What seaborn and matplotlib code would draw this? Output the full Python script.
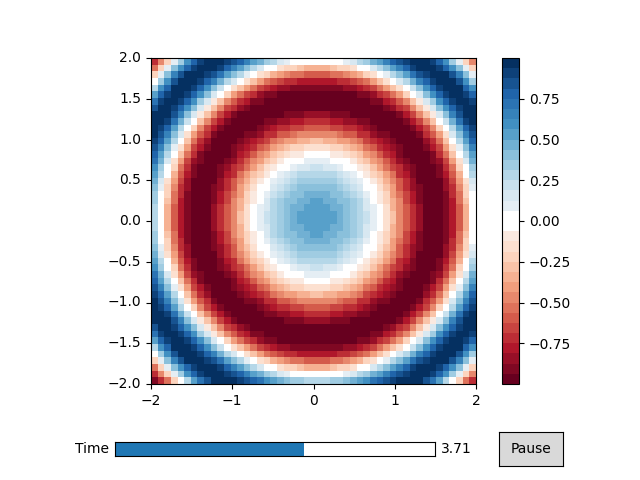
import numpy as np
import matplotlib
matplotlib.use("Agg")
import matplotlib.pyplot as plt
from matplotlib.colors import ListedColormap
from matplotlib.widgets import Button
import seaborn as sns

# One quadrant of the picture, estimated by hand from the rings.
# Row/column = cells away from the centre; the rest of the grid is mirrored.
quadrant = [
    [.53, .52, .50, .47, .42, .36, .29, .19, .09, -.03, -.17, -.31, -.46, -.60, -.74, -.86, -.95, -.99, -.99, -.93, -.79, -.58, -.33, -.03, .29],
    [.52, .51, .49, .45, .41, .35, .27, .18, .07, -.05, -.18, -.33, -.47, -.61, -.75, -.87, -.95, -1.0, -.99, -.92, -.78, -.57, -.32, -.02, .30],
    [.50, .49, .47, .43, .38, .32, .25, .15, .05, -.07, -.21, -.35, -.49, -.63, -.77, -.88, -.96, -1.0, -.99, -.91, -.76, -.55, -.29, .01, .33],
    [.47, .45, .43, .39, .35, .29, .21, .11, .01, -.11, -.25, -.39, -.53, -.67, -.79, -.89, -.97, -1.0, -.98, -.89, -.73, -.52, -.25, .05, .36],
    [.42, .41, .38, .35, .29, .23, .15, .06, -.05, -.17, -.30, -.43, -.57, -.70, -.82, -.92, -.98, -1.0, -.97, -.87, -.70, -.47, -.20, .11, .41],
    [.36, .35, .32, .29, .23, .17, .09, -.01, -.11, -.23, -.36, -.49, -.62, -.75, -.86, -.94, -.99, -1.0, -.95, -.83, -.65, -.41, -.13, .17, .47],
    [.29, .27, .25, .21, .15, .09, .01, -.09, -.19, -.31, -.43, -.56, -.69, -.80, -.89, -.96, -1.0, -.99, -.92, -.78, -.58, -.34, -.05, .25, .54],
    [.19, .18, .15, .11, .06, -.01, -.09, -.18, -.29, -.40, -.52, -.63, -.75, -.85, -.93, -.99, -1.0, -.97, -.88, -.72, -.51, -.25, .04, .34, .62],
    [.09, .07, .05, .01, -.05, -.11, -.19, -.29, -.39, -.49, -.60, -.72, -.82, -.90, -.96, -1.0, -.99, -.93, -.82, -.64, -.41, -.15, .15, .44, .70],
    [-.03, -.05, -.07, -.11, -.17, -.23, -.31, -.40, -.49, -.59, -.70, -.79, -.88, -.95, -.99, -1.0, -.97, -.88, -.73, -.54, -.31, -.03, .27, .54, .78],
    [-.17, -.18, -.21, -.25, -.30, -.36, -.43, -.52, -.60, -.70, -.78, -.87, -.93, -.98, -1.0, -.99, -.92, -.81, -.64, -.43, -.18, .11, .39, .65, .86],
    [-.31, -.33, -.35, -.39, -.43, -.49, -.56, -.63, -.72, -.79, -.87, -.93, -.98, -1.0, -.99, -.95, -.85, -.71, -.52, -.29, -.03, .25, .52, .75, .92],
    [-.46, -.47, -.49, -.53, -.57, -.62, -.69, -.75, -.82, -.88, -.93, -.98, -1.0, -1.0, -.96, -.88, -.75, -.58, -.38, -.13, .13, .40, .65, .85, .97],
    [-.60, -.61, -.63, -.67, -.70, -.75, -.80, -.85, -.90, -.95, -.98, -1.0, -1.0, -.96, -.89, -.78, -.63, -.44, -.21, .04, .30, .56, .77, .93, 1.0],
    [-.74, -.75, -.77, -.79, -.82, -.86, -.89, -.93, -.96, -.99, -1.0, -.99, -.96, -.89, -.79, -.65, -.47, -.27, -.03, .22, .47, .70, .88, .98, .99],
    [-.86, -.87, -.88, -.89, -.92, -.94, -.96, -.99, -1.0, -1.0, -.99, -.95, -.88, -.78, -.65, -.49, -.29, -.07, .17, .41, .64, .83, .95, 1.0, .95],
    [-.95, -.95, -.96, -.97, -.98, -.99, -1.0, -1.0, -.99, -.97, -.92, -.85, -.75, -.63, -.47, -.29, -.08, .15, .38, .60, .79, .93, .99, .98, .85],
    [-.99, -1.0, -1.0, -1.0, -1.0, -1.0, -.99, -.97, -.93, -.88, -.81, -.71, -.58, -.44, -.27, -.07, .15, .36, .58, .76, .91, .99, .99, .90, .72],
    [-.99, -.99, -.99, -.98, -.97, -.95, -.92, -.88, -.82, -.73, -.64, -.52, -.38, -.21, -.03, .17, .38, .58, .75, .90, .98, 1.0, .93, .78, .54],
    [-.93, -.92, -.91, -.89, -.87, -.83, -.78, -.72, -.64, -.54, -.43, -.29, -.13, .04, .22, .41, .60, .76, .90, .97, 1.0, .94, .80, .59, .31],
    [-.79, -.78, -.76, -.73, -.70, -.65, -.58, -.51, -.41, -.31, -.18, -.03, .13, .30, .47, .64, .79, .91, .98, 1.0, .95, .82, .62, .35, .05],
    [-.58, -.57, -.55, -.52, -.47, -.41, -.34, -.25, -.15, -.03, .11, .25, .40, .56, .70, .83, .93, .99, 1.0, .94, .82, .63, .38, .09, -.23],
    [-.33, -.32, -.29, -.25, -.20, -.13, -.05, .04, .15, .27, .39, .52, .65, .77, .88, .95, .99, .99, .93, .80, .62, .38, .10, -.20, -.51],
    [-.03, -.02, .01, .05, .11, .17, .25, .34, .44, .54, .65, .75, .85, .93, .98, 1.0, .98, .90, .78, .59, .35, .09, -.20, -.49, -.75],
    [.29, .30, .33, .36, .41, .47, .54, .62, .70, .78, .86, .92, .97, 1.0, .99, .95, .85, .72, .54, .31, .05, -.23, -.51, -.75, -.91],
]
x_ticks = [-2, -1, 0, 1, 2]
y_ticks = [-2.0, -1.5, -1.0, -0.5, 0.0, 0.5, 1.0, 1.5, 2.0]
cbar_ticks = [-0.75, -0.50, -0.25, 0.00, 0.25, 0.50, 0.75]
time_value = 3.71
time_max = 2 * np.pi

# Mirror the quadrant; the last row and column of the full grid are not drawn
order = list(range(24, -1, -1)) + list(range(0, 24))
grid = np.array(quadrant)[np.ix_(order, order)]
n_cells = grid.shape[0]

# The reference colours come in visible bands with a wide white one at zero
base = matplotlib.colormaps["RdBu"].resampled(32)
colors = [base(i) for i in range(32)]
colors[15] = colors[16] = (1.0, 1.0, 1.0, 1.0)
cmap = ListedColormap(colors)

def add_axes_px(fig, left, top, right, bottom):
    return fig.add_axes([left / 640, 1 - bottom / 480, (right - left) / 640, (bottom - top) / 480])

def minus(label):
    return label.replace("-", "\u2212")

fig = plt.figure(figsize=(6.4, 4.8), dpi=100)
ax = add_axes_px(fig, 151, 58, 476, 384)
cax = add_axes_px(fig, 502, 58, 519, 384)

sns.heatmap(grid, cmap=cmap, vmin=-1, vmax=1, ax=ax, cbar_ax=cax)
ax.invert_yaxis()
for spine in ax.spines.values():
    spine.set_visible(True)
    spine.set_linewidth(0.8)

ax.set_xticks([(v + 2) / 4 * n_cells for v in x_ticks])
ax.set_xticklabels([minus(str(v)) for v in x_ticks], rotation=0)
ax.set_yticks([(v + 2) / 4 * n_cells for v in y_ticks])
ax.set_yticklabels([minus(f"{v:.1f}") for v in y_ticks], rotation=0)
ax.tick_params(length=3.5, width=0.8, labelsize=10)

cbar = ax.collections[0].colorbar
cbar.set_ticks(cbar_ticks)
cbar.set_ticklabels([minus(f"{v:.2f}") for v in cbar_ticks])
cbar.ax.tick_params(length=3.5, width=0.8, labelsize=10)
cbar.outline.set_visible(True)
cbar.outline.set_linewidth(0.8)

# Time slider
ax_time = add_axes_px(fig, 115, 442, 435, 456)
ax_time.barh(0, time_value, height=1, color="#1f77b4")
ax_time.set_xlim(0, time_max)
ax_time.set_ylim(-0.5, 0.5)
ax_time.set_xticks([])
ax_time.set_yticks([])
ax_time.text(-0.02, 0.5, "Time", transform=ax_time.transAxes, ha="right", va="center", fontsize=10)
ax_time.text(1.02, 0.5, f"{time_value:.2f}", transform=ax_time.transAxes, ha="left", va="center", fontsize=10)

# Pause button
ax_pause = add_axes_px(fig, 499, 432, 563, 466)
pause_button = Button(ax_pause, "Pause")

fig.savefig("out.png", dpi=100)
